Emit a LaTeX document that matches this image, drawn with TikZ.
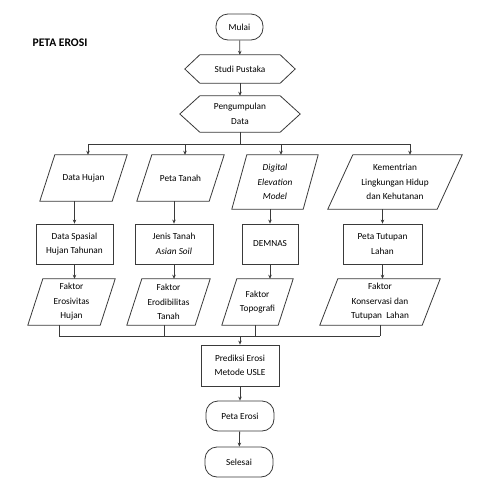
\documentclass[tikz,border=0pt]{standalone}
\usepackage{fontspec}
\setmainfont{Carlito}
\usetikzlibrary{calc,arrows.meta}
\definecolor{ln}{HTML}{3A3A3A}
\tikzset{
  txt/.style={rectangle, inner sep=0pt, align=center, font=\fontsize{9.3}{14.5}\selectfont, text=black},
  shp/.style={draw=ln, line width=0.8pt, line join=miter},
  rbox/.style={txt, draw=ln, line width=0.8pt},
  term/.style={txt, draw=ln, line width=0.8pt, rounded corners=12pt},
  conn/.style={draw=ln, line width=0.8pt},
  arr/.style={conn, -{Stealth[length=4pt,width=3.5pt]}}
}
\newcommand\parashape[2]{\draw[shp] (#1.south west) -- ($(#1.south east)+(-#2pt,0)$) -- (#1.north east) -- ($(#1.north west)+(#2pt,0)$) -- cycle;}
\newcommand\hexshape[2]{\draw[shp] (#1.west) -- ($(#1.north west)+(#2pt,0)$) -- ($(#1.north east)+(-#2pt,0)$) -- (#1.east) -- ($(#1.south east)+(-#2pt,0)$) -- ($(#1.south west)+(#2pt,0)$) -- cycle;}
\begin{document}
\begin{tikzpicture}[x=1pt,y=-1pt]
\useasboundingbox (0,0) rectangle (480,480);
\fill[white] (0,0) rectangle (480,480);
% title
\node[font=\fontsize{11.6}{14}\selectfont\bfseries, inner sep=0pt] (title) at (60,43) {PETA EROSI};
% top
\node[term, minimum width=47pt, minimum height=26pt] (mulai) at (239.5,27) {Mulai};
\node[txt, minimum width=110pt, minimum height=28pt] (studi) at (240,69) {Studi Pustaka};
\hexshape{studi}{15}
\node[txt, minimum width=120pt, minimum height=36pt] (kumpul) at (240,114) {Pengumpulan\\Data};
\hexshape{kumpul}{20}
% row 1
\node[txt, minimum width=87pt, minimum height=46pt] (p1) at (83.5,178) {Data Hujan};
\parashape{p1}{15}
\node[txt, minimum width=87pt, minimum height=46pt] (p2) at (180.5,178) {Peta Tanah};
\parashape{p2}{15}
\node[txt, minimum width=86pt, minimum height=54pt] (p3) at (275,182) {\itshape Digital\\\itshape Elevation\\\itshape Model};
\parashape{p3}{15}
\node[txt, minimum width=134pt, minimum height=54pt] (p4) at (395,182) {Kementrian\\Lingkungan Hidup\\dan Kehutanan};
\parashape{p4}{25}
% row 2
\node[rbox, minimum width=77pt, minimum height=40pt] (r1) at (74.5,244) {Data Spasial\\Hujan Tahunan};
\node[rbox, minimum width=78pt, minimum height=40pt] (r2) at (174,244) {Jenis Tanah\\\itshape Asian Soil};
\node[rbox, minimum width=56pt, minimum height=40pt] (r3) at (270,244) {DEMNAS};
\node[rbox, minimum width=79pt, minimum height=40pt] (r4) at (382.5,244) {Peta Tutupan\\Lahan};
% row 3
\node[txt, minimum width=87pt, minimum height=46pt] (q1) at (71.5,302) {Faktor\\Erosivitas\\Hujan};
\parashape{q1}{15}
\node[txt, minimum width=83pt, minimum height=46pt] (q2) at (168.5,302) {Faktor\\Erodibilitas\\Tanah};
\parashape{q2}{15}
\node[txt, minimum width=71pt, minimum height=46pt] (q3) at (257.5,302) {Faktor\\Topografi};
\parashape{q3}{15}
\node[txt, minimum width=120pt, minimum height=46pt] (q4) at (380,302) {Faktor\\Konservasi dan\\Tutupan\ \ Lahan};
\parashape{q4}{18}
% bottom
\node[rbox, minimum width=78pt, minimum height=41pt] (pred) at (240,365.5) {Prediksi Erosi\\Metode USLE};
\node[term, minimum width=68pt, minimum height=30pt] (peta) at (240,416) {Peta Erosi};
\node[term, minimum width=68pt, minimum height=30pt] (selesai) at (239,462) {Selesai};
% bus coordinates
\coordinate (busc) at (240,144);
\coordinate (b1) at (88,144);
\coordinate (b2) at (185,144);
\coordinate (b3) at (281,144);
\coordinate (b4) at (410,144);
\coordinate (c1) at (59,336);
\coordinate (c2) at (164,336);
\coordinate (c3) at (255,336);
\coordinate (c4) at (380,336);
\coordinate (cc) at (240,336);
% connectors
\draw[arr] (mulai) -- (studi);
\draw[arr] (studi) -- (kumpul);
\draw[conn] (kumpul.south) -- (busc);
\draw[conn] (b1) -- (b4);
\draw[arr] (b1) -- (b1 |- p1.north);
\draw[arr] (b2) -- (b2 |- p2.north);
\draw[arr] (b3) -- (b3 |- p3.north);
\draw[arr] (b4) -- (b4 |- p4.north);
\draw[arr] (r1.north |- p1.south) -- (r1.north);
\draw[arr] (r2.north |- p2.south) -- (r2.north);
\draw[arr] (r3.north |- p3.south) -- (r3.north);
\draw[arr] (r4.north |- p4.south) -- (r4.north);
\draw[arr] (r1.south) -- (r1.south |- q1.north);
\draw[arr] (r2.south) -- (r2.south |- q2.north);
\draw[arr] (r3.south) -- (r3.south |- q3.north);
\draw[arr] (r4.south) -- (r4.south |- q4.north);
\draw[conn] (c1 |- q1.south) -- (c1);
\draw[conn] (c2 |- q2.south) -- (c2);
\draw[conn] (c3 |- q3.south) -- (c3);
\draw[conn] (c4 |- q4.south) -- (c4);
\draw[conn] (c1) -- (c4);
\draw[arr] (cc) -- (pred.north);
\draw[arr] (pred) -- (peta);
\draw[arr] (peta) -- (selesai);
\end{tikzpicture}
\end{document}
